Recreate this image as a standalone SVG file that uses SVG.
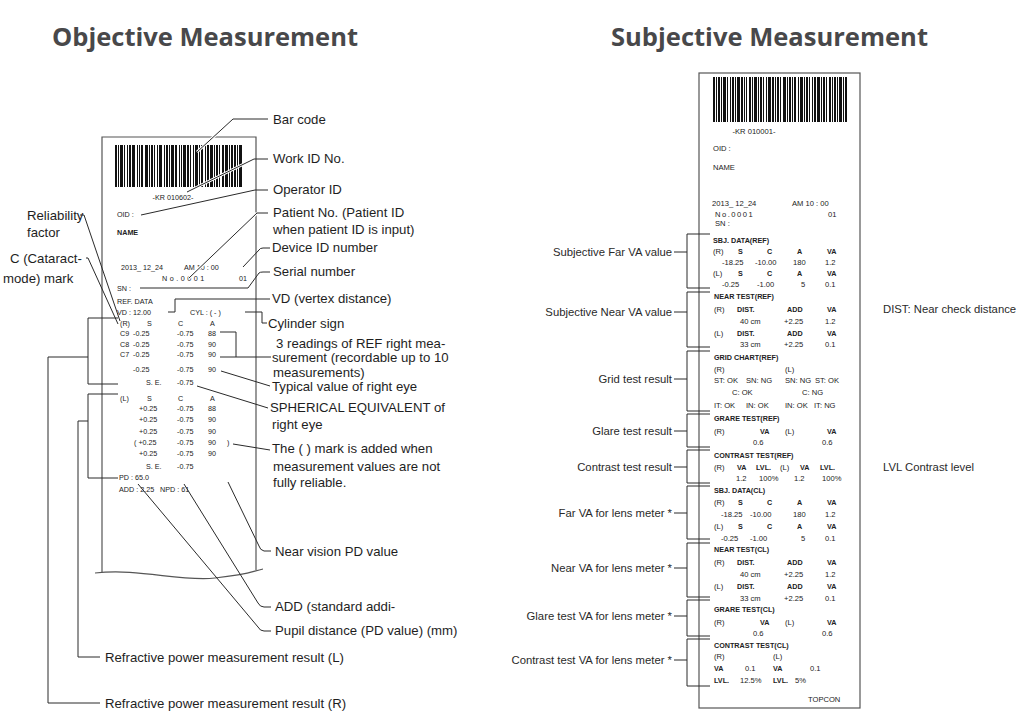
<svg xmlns="http://www.w3.org/2000/svg" width="1024" height="714" viewBox="0 0 1024 714">
<style>
.title{font-family:"Open Sans","Liberation Sans",sans-serif;font-weight:bold;font-size:25px;fill:#48484a}
.lbl{font-family:"Liberation Sans",Arial,sans-serif;font-size:13.2px;fill:#1e1e1e}
.rl{font-family:"Liberation Sans",Arial,sans-serif;font-size:11.3px;fill:#2a2a2a}
.t{font-family:"Liberation Sans",Arial,sans-serif;font-size:7.2px;fill:#222}
.tr{font-family:"Liberation Sans",Arial,sans-serif;font-size:7.6px;fill:#222}
.b{font-weight:bold}
.ln{stroke:#2a2a2a;stroke-width:1;fill:none}
.halo{stroke:#fff;stroke-width:3;fill:none}
.edge{stroke:#555;stroke-width:1.2;fill:none}
.bar{stroke:#111;fill:none}
</style>
<rect width="1024" height="714" fill="#fff"/>

<g id="title-objective"><text class="title" x="52" y="46" textLength="306" lengthAdjust="spacingAndGlyphs">Objective Measurement</text></g>
<g id="title-subjective"><text class="title" x="611" y="46" textLength="317" lengthAdjust="spacingAndGlyphs">Subjective Measurement</text></g>

<g id="receipt-objective">
<path class="edge" d="M102,572 V137 H256 V570"/>
<path class="edge" d="M95,573 C140,568 180,582 215,578 S250,572 263,569"/>
<line class="bar" x1="115" y1="166" x2="242" y2="166" stroke-width="42" stroke-dasharray="2 1 1 1 3 1 1 2 1 1 2 1 3 2 1 1 1 1 2 2 3 1 1 1 2 1 1 2 1 1 3 2 1 1 2 1 1 1 3 1 2 2 1 1 1 1 3 1 2 1 1 2 1 1 3 1 1 1 2 2 1 1 2 1 3 1 1 1 2 1 1 2 2 1 3 1 1 1 2 1"/>
<rect x="240" y="145" width="2" height="42" fill="#111"/>
<text class="t" x="173" y="200" text-anchor="middle">-KR 010602-</text>
<text class="t" x="117" y="217">OID :</text>
<text class="t b" x="117" y="235">NAME</text>
<text class="t" x="121" y="270">2013_ 12_24</text>
<text class="t" x="184" y="270">AM 10 :  00</text>
<text class="t" x="162" y="281" letter-spacing="2.5">No.0001</text>
<text class="t" x="239" y="281">01</text>
<text class="t" x="117" y="291">SN :</text>
<text class="t" x="117" y="304">REF.  DATA</text>
<text class="t" x="117" y="315">VD  :  12.00</text>
<text class="t" x="190" y="315">CYL  :  ( - )</text>
<text class="t" x="120" y="326">(R)</text><text class="t" x="147" y="326">S</text><text class="t" x="178" y="326">C</text><text class="t" x="210" y="326">A</text>
<text class="t" x="120" y="336">C9</text><text class="t" x="133" y="336">-0.25</text><text class="t" x="177" y="336">-0.75</text><text class="t" x="208" y="336">88</text>
<text class="t" x="120" y="347">C8</text><text class="t" x="133" y="347">-0.25</text><text class="t" x="177" y="347">-0.75</text><text class="t" x="208" y="347">90</text>
<text class="t" x="120" y="357">C7</text><text class="t" x="133" y="357">-0.25</text><text class="t" x="177" y="357">-0.75</text><text class="t" x="208" y="357">90</text>
<text class="t" x="133" y="372">-0.25</text><text class="t" x="177" y="372">-0.75</text><text class="t" x="208" y="372">90</text>
<text class="t" x="146" y="385">S. E.</text><text class="t" x="177" y="385">-0.75</text>
<text class="t" x="120" y="401">(L)</text><text class="t" x="147" y="401">S</text><text class="t" x="178" y="401">C</text><text class="t" x="210" y="401">A</text>
<text class="t" x="139" y="411">+0.25</text><text class="t" x="177" y="411">-0.75</text><text class="t" x="208" y="411">88</text>
<text class="t" x="139" y="422">+0.25</text><text class="t" x="177" y="422">-0.75</text><text class="t" x="208" y="422">90</text>
<text class="t" x="139" y="434">+0.25</text><text class="t" x="177" y="434">-0.75</text><text class="t" x="208" y="434">90</text>
<text class="t" x="134" y="445">( +0.25</text><text class="t" x="177" y="445">-0.75</text><text class="t" x="208" y="445">90</text><text class="t" x="227" y="445">)</text>
<text class="t" x="139" y="456">+0.25</text><text class="t" x="177" y="456">-0.75</text><text class="t" x="208" y="456">90</text>
<text class="t" x="146" y="469">S. E.</text><text class="t" x="177" y="469">-0.75</text>
<text class="t" x="119" y="480">PD : 65.0</text>
<text class="t" x="119" y="492">ADD  : 2.25</text><text class="t" x="160" y="492">NPD  : 61</text>
</g>

<g id="receipt-subjective">
<rect class="edge" x="699" y="73" width="161" height="635" fill="#fff"/>
<line class="bar" x1="713" y1="99.5" x2="847" y2="99.5" stroke-width="45" stroke-dasharray="2 1 1 1 2 1 1 1 3 1 1 2 1 1 2 1 1 1 3 1 2 1 1 1 1 2 2 1 1 1 3 1 1 1 2 1 1 2 1 1 3 1 2 1 1 1 2 1 1 2 3 1 1 1 2 1 1 1 2 2 1 1 3 1 1 1 2 1 1 2 1 1 2 1 3 1 1 1 2 1 1 2"/>
<rect x="845" y="77" width="2" height="45" fill="#111"/>
<text class="tr" x="754" y="134" text-anchor="middle">-KR 010001-</text>
<text class="tr" x="713" y="151">OID :</text>
<text class="tr" x="713" y="170">NAME</text>
<text class="tr" x="712" y="206">2013_ 12_24</text><text class="tr" x="792" y="206">AM 10 : 00</text>
<text class="tr" x="715" y="217" letter-spacing="1.5">No.0001</text><text class="tr" x="828" y="217">01</text>
<text class="tr" x="715" y="226">SN :</text>

<text class="t b" x="713" y="243">SBJ. DATA(REF)</text>
<text class="tr" x="713" y="254">(R)</text><text class="t b" x="738" y="254">S</text><text class="t b" x="767" y="254">C</text><text class="t b" x="797" y="254">A</text><text class="t b" x="827" y="254">VA</text>
<text class="tr" x="722" y="265">-18.25</text><text class="tr" x="755" y="265">-10.00</text><text class="tr" x="793" y="265">180</text><text class="tr" x="825" y="265">1.2</text>
<text class="tr" x="713" y="276">(L)</text><text class="t b" x="738" y="276">S</text><text class="t b" x="767" y="276">C</text><text class="t b" x="797" y="276">A</text><text class="t b" x="827" y="276">VA</text>
<text class="tr" x="722" y="287">-0.25</text><text class="tr" x="757" y="287">-1.00</text><text class="tr" x="801" y="287">5</text><text class="tr" x="825" y="287">0.1</text>

<text class="t b" x="714" y="299">NEAR TEST(REF)</text>
<text class="tr" x="714" y="312">(R)</text><text class="t b" x="737" y="312">DIST.</text><text class="t b" x="787" y="312">ADD</text><text class="t b" x="827" y="312">VA</text>
<text class="tr" x="740" y="324">40  cm</text><text class="tr" x="784" y="324">+2.25</text><text class="tr" x="825" y="324">1.2</text>
<text class="tr" x="714" y="336">(L)</text><text class="t b" x="737" y="336">DIST.</text><text class="t b" x="787" y="336">ADD</text><text class="t b" x="827" y="336">VA</text>
<text class="tr" x="740" y="347">33  cm</text><text class="tr" x="784" y="347">+2.25</text><text class="tr" x="825" y="347">0.1</text>

<text class="t b" x="714" y="360">GRID CHART(REF)</text>
<text class="tr" x="714" y="372">(R)</text><text class="tr" x="785" y="372">(L)</text>
<text class="tr" x="714" y="383">ST: OK</text><text class="tr" x="746" y="383">SN: NG</text><text class="tr" x="785" y="383">SN: NG</text><text class="tr" x="815" y="383">ST: OK</text>
<text class="tr" x="732" y="395">C: OK</text><text class="tr" x="802" y="395">C: NG</text>
<text class="tr" x="714" y="408">IT: OK</text><text class="tr" x="746" y="408">IN: OK</text><text class="tr" x="785" y="408">IN: OK</text><text class="tr" x="814" y="408">IT: NG</text>

<text class="t b" x="714" y="421">GRARE TEST(REF)</text>
<text class="tr" x="714" y="434">(R)</text><text class="t b" x="760" y="434">VA</text><text class="tr" x="785" y="434">(L)</text><text class="t b" x="827" y="434">VA</text>
<text class="tr" x="753" y="445">0.6</text><text class="tr" x="822" y="445">0.6</text>

<text class="t b" x="714" y="458">CONTRAST TEST(REF)</text>
<text class="tr" x="714" y="470">(R)</text><text class="t b" x="737" y="470">VA</text><text class="t b" x="756" y="470">LVL.</text><text class="tr" x="780" y="470">(L)</text><text class="t b" x="800" y="470">VA</text><text class="t b" x="820" y="470">LVL.</text>
<text class="tr" x="736" y="481">1.2</text><text class="tr" x="759" y="481">100%</text><text class="tr" x="794" y="481">1.2</text><text class="tr" x="822" y="481">100%</text>

<text class="t b" x="714" y="493">SBJ. DATA(CL)</text>
<text class="tr" x="714" y="505">(R)</text><text class="t b" x="738" y="505">S</text><text class="t b" x="767" y="505">C</text><text class="t b" x="797" y="505">A</text><text class="t b" x="827" y="505">VA</text>
<text class="tr" x="721" y="517">-18.25</text><text class="tr" x="750" y="517">-10.00</text><text class="tr" x="793" y="517">180</text><text class="tr" x="825" y="517">1.2</text>
<text class="tr" x="714" y="529">(L)</text><text class="t b" x="738" y="529">S</text><text class="t b" x="767" y="529">C</text><text class="t b" x="797" y="529">A</text><text class="t b" x="827" y="529">VA</text>
<text class="tr" x="721" y="541">-0.25</text><text class="tr" x="750" y="541">-1.00</text><text class="tr" x="801" y="541">5</text><text class="tr" x="825" y="541">0.1</text>

<text class="t b" x="714" y="552">NEAR TEST(CL)</text>
<text class="tr" x="714" y="565">(R)</text><text class="t b" x="737" y="565">DIST.</text><text class="t b" x="787" y="565">ADD</text><text class="t b" x="827" y="565">VA</text>
<text class="tr" x="740" y="577">40  cm</text><text class="tr" x="784" y="577">+2.25</text><text class="tr" x="825" y="577">1.2</text>
<text class="tr" x="714" y="589">(L)</text><text class="t b" x="737" y="589">DIST.</text><text class="t b" x="787" y="589">ADD</text><text class="t b" x="827" y="589">VA</text>
<text class="tr" x="740" y="601">33  cm</text><text class="tr" x="784" y="601">+2.25</text><text class="tr" x="825" y="601">0.1</text>

<text class="t b" x="714" y="612">GRARE TEST(CL)</text>
<text class="tr" x="714" y="625">(R)</text><text class="t b" x="760" y="625">VA</text><text class="tr" x="785" y="625">(L)</text><text class="t b" x="827" y="625">VA</text>
<text class="tr" x="753" y="636">0.6</text><text class="tr" x="822" y="636">0.6</text>

<text class="t b" x="714" y="648">CONTRAST TEST(CL)</text>
<text class="tr" x="714" y="659">(R)</text><text class="tr" x="773" y="659">(L)</text>
<text class="t b" x="714" y="671">VA</text><text class="tr" x="745" y="671">0.1</text><text class="t b" x="773" y="671">VA</text><text class="tr" x="810" y="671">0.1</text>
<text class="t b" x="714" y="683">LVL.</text><text class="tr" x="740" y="683">12.5%</text><text class="t b" x="773" y="683">LVL.</text><text class="tr" x="795" y="683">5%</text>
<text class="tr" x="808" y="702" font-size="8">TOPCON</text>
</g>

<g id="connectors">
<path class="halo" d="M197,152 L233,119"/><path class="ln" d="M197,152 L233,119 H268"/>
<path class="halo" d="M187,192 L254,159"/><path class="ln" d="M187,192 L254,159 H268"/>
<path class="halo" d="M141,215 L255,190"/><path class="ln" d="M141,215 L255,190 H268"/>
<path class="halo" d="M189,278 L257,213"/><path class="ln" d="M189,278 L257,213 H268"/>
<path class="ln" d="M243,267 L259,250 Q260,248 263,248 H270"/>
<path class="ln" d="M140,288 H248 L259,273 Q260,272 263,272 H270"/>
<path class="ln" d="M168,312 H175 V299 H270"/>
<path class="ln" d="M245,312 H262 V323 H267"/>
<path class="ln" d="M220,332 H236 V357 M220,357 H271"/>
<path class="ln" d="M221,371 L270,386"/>
<path class="ln" d="M197,386 L268,408"/>
<path class="ln" d="M233,444 L270,450"/>
<path class="ln" d="M228,482 L259,546 Q260,550 264,551 H271"/>
<path class="ln" d="M184,484 L258,603 Q260,607 264,607 H271"/>
<path class="ln" d="M138,484 L258,627 Q260,631 264,631 H271"/>
<path class="ln" d="M80,215 H84 L120,321"/>
<path class="ln" d="M86,258 H88 L118,324"/>
<path class="ln" d="M118,318 H88 V384 H118 M88,357 H48 V703 H100"/>
<path class="ln" d="M118,394 H88 V478 H118 M88,421 H78 V657 H100"/>

<path class="ln" d="M710,234 H687 V288 H710 M674,252 H687"/>
<path class="ln" d="M710,292 H687 V347 H710 M674,312 H687"/>
<path class="ln" d="M710,351 H687 V411 H710 M674,379 H687"/>
<path class="ln" d="M710,414 H687 V447 H710 M674,431 H687"/>
<path class="ln" d="M710,450 H687 V483 H710 M674,467 H687"/>
<path class="ln" d="M710,486 H687 V539 H710 M674,513 H687"/>
<path class="ln" d="M710,543 H687 V597 H710 M674,568 H687"/>
<path class="ln" d="M710,600 H687 V636 H710 M674,616 H687"/>
<path class="ln" d="M710,639 H687 V686 H710 M674,660 H687"/>
</g>

<g id="lbl-barcode"><text class="lbl" x="273" y="124">Bar code</text></g>
<g id="lbl-workid"><text class="lbl" x="273" y="163">Work ID No.</text></g>
<g id="lbl-operator"><text class="lbl" x="273" y="194">Operator ID</text></g>
<g id="lbl-patient"><text class="lbl" x="273" y="217">Patient No. (Patient ID</text><text class="lbl" x="273" y="234">when patient ID is input)</text></g>
<g id="lbl-device"><text class="lbl" x="272" y="252">Device ID number</text></g>
<g id="lbl-serial"><text class="lbl" x="273" y="276">Serial number</text></g>
<g id="lbl-vd"><text class="lbl" x="272" y="303">VD (vertex distance)</text></g>
<g id="lbl-cyl"><text class="lbl" x="268" y="328">Cylinder sign</text></g>
<g id="lbl-readings"><text class="lbl" x="276" y="348">3 readings of REF right mea-</text><text class="lbl" x="272" y="362">surement (recordable up to 10</text><text class="lbl" x="273" y="377">measurements)</text></g>
<g id="lbl-typical"><text class="lbl" x="272" y="391">Typical value of right eye</text></g>
<g id="lbl-se"><text class="lbl" x="270" y="412">SPHERICAL EQUIVALENT of</text><text class="lbl" x="272" y="429">right eye</text></g>
<g id="lbl-mark"><text class="lbl" x="272" y="453">The ( ) mark is added when</text><text class="lbl" x="273" y="471">measurement values are not</text><text class="lbl" x="273" y="487">fully reliable.</text></g>
<g id="lbl-npd"><text class="lbl" x="275" y="556">Near vision PD value</text></g>
<g id="lbl-add"><text class="lbl" x="275" y="611">ADD (standard addi-</text></g>
<g id="lbl-pd"><text class="lbl" x="275" y="635">Pupil distance (PD value) (mm)</text></g>
<g id="lbl-refl"><text class="lbl" x="105" y="662">Refractive power measurement result (L)</text></g>
<g id="lbl-refr"><text class="lbl" x="105" y="708">Refractive power measurement result (R)</text></g>
<g id="lbl-reliability"><text class="lbl" x="27" y="220">Reliability</text><text class="lbl" x="27" y="237">factor</text></g>
<g id="lbl-cataract"><text class="lbl" x="10" y="263">C (Cataract-</text><text class="lbl" x="3" y="283">mode) mark</text></g>

<g id="lbl-far"><text class="rl" x="672" y="256" text-anchor="end">Subjective Far VA value</text></g>
<g id="lbl-near"><text class="rl" x="672" y="316" text-anchor="end">Subjective Near VA value</text></g>
<g id="lbl-grid"><text class="rl" x="672" y="383" text-anchor="end">Grid test result</text></g>
<g id="lbl-glare"><text class="rl" x="672" y="435" text-anchor="end">Glare test result</text></g>
<g id="lbl-contrast"><text class="rl" x="672" y="471" text-anchor="end">Contrast test result</text></g>
<g id="lbl-farlm"><text class="rl" x="672" y="517" text-anchor="end">Far VA for lens meter *</text></g>
<g id="lbl-nearlm"><text class="rl" x="672" y="572" text-anchor="end">Near VA for lens meter *</text></g>
<g id="lbl-glarelm"><text class="rl" x="672" y="620" text-anchor="end">Glare test VA for lens meter *</text></g>
<g id="lbl-contrastlm"><text class="rl" x="672" y="664" text-anchor="end">Contrast test VA for lens meter *</text></g>
<g id="lbl-dist"><text class="rl" x="883" y="313">DIST: Near check distance</text></g>
<g id="lbl-lvl"><text class="rl" x="883" y="471">LVL Contrast level</text></g>
</svg>
